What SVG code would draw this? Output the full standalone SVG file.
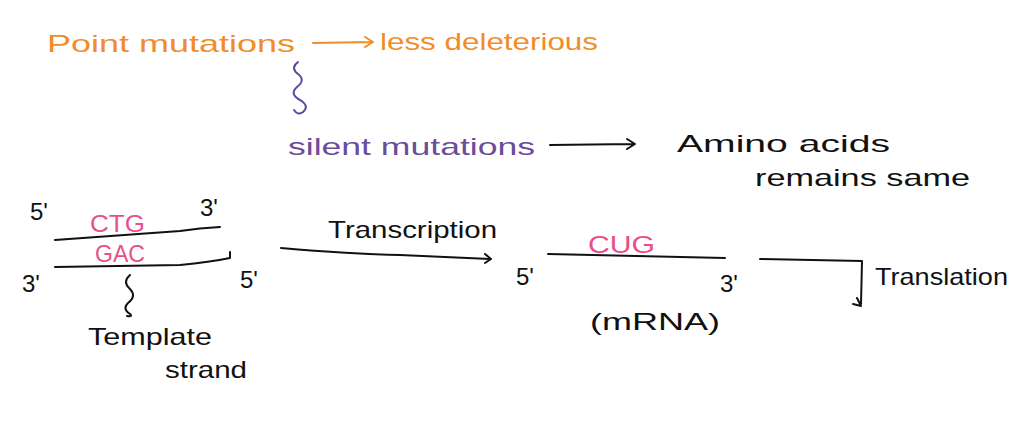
<svg xmlns="http://www.w3.org/2000/svg" width="1024" height="430" viewBox="0 0 1024 430">
<style>
text{font-family:"Liberation Sans","DejaVu Sans",sans-serif;font-size:24px}
.o{fill:#f28c28}
.p{fill:#6b4c9a}
.k{fill:#111}
.r{fill:#e8508a}
.ln{fill:none;stroke:#111;stroke-width:2;stroke-linecap:round;stroke-linejoin:round}
.lo{stroke:#f28c28}
.lp{stroke:#5b45a0}
</style>
<rect width="1024" height="430" fill="#fff"/>
<g id="point-mutations"><text class="o" x="47" y="52" textLength="248" lengthAdjust="spacingAndGlyphs">Point mutations</text></g>
<g id="less-deleterious"><text class="o" x="380" y="50" textLength="218" lengthAdjust="spacingAndGlyphs">less deleterious</text></g>
<g id="silent-mutations"><text class="p" x="288" y="155" textLength="247" lengthAdjust="spacingAndGlyphs">silent mutations</text></g>
<g id="amino-acids"><text class="k" x="677" y="152" textLength="213" lengthAdjust="spacingAndGlyphs">Amino acids</text><text class="k" x="755" y="186" textLength="215" lengthAdjust="spacingAndGlyphs">remains same</text></g>
<g id="dna">
<text class="k" x="30" y="220" font-size="22">5'</text>
<text class="r" x="90" y="232" font-size="20" textLength="55" lengthAdjust="spacingAndGlyphs">CTG</text>
<text class="k" x="200" y="216" font-size="22">3'</text>
<text class="r" x="95" y="262" font-size="18" textLength="50" lengthAdjust="spacingAndGlyphs">GAC</text>
<text class="k" x="22" y="292" font-size="22">3'</text>
<text class="k" x="240" y="288" font-size="22">5'</text>
<path class="ln" d="M55,240 Q140,234 180,231 Q200,228 220,227"/>
<path class="ln" d="M55,267 L180,265 Q210,262 230,258 L230,252"/>
</g>
<g id="template-strand"><text class="k" x="88" y="345" textLength="124" lengthAdjust="spacingAndGlyphs">Template</text><text class="k" x="165" y="378" textLength="82" lengthAdjust="spacingAndGlyphs">strand</text></g>
<g id="transcription-label"><text class="k" x="328" y="238" textLength="169" lengthAdjust="spacingAndGlyphs">Transcription</text></g>
<g id="mrna">
<text class="k" x="516" y="285" font-size="22">5'</text>
<text class="r" x="588" y="253" font-size="22" textLength="67" lengthAdjust="spacingAndGlyphs">CUG</text>
<text class="k" x="720" y="292" font-size="22">3'</text>
<path class="ln" d="M548,254 L725,258"/>
<text class="k" x="590" y="330" textLength="130" lengthAdjust="spacingAndGlyphs">(mRNA)</text>
</g>
<g id="translation-label"><text class="k" x="875" y="285" textLength="133" lengthAdjust="spacingAndGlyphs">Translation</text></g>
<g id="connectors">
<path class="ln lo" d="M313,43 L372,42 M365,37 L373,42 L365,47"/>
<path class="ln lp" d="M298,62 Q290,68 298,74 Q306,80 297,87 Q289,94 300,100 Q310,106 303,112 Q298,116 294,110"/>
<path class="ln" d="M550,145 L634,144 M627,139 L635,144 L627,149"/>
<path class="ln" d="M130,275 Q122,282 130,289 Q137,296 128,303 Q122,309 130,314 Q133,317 127,316"/>
<path class="ln" d="M281,248 Q350,254 400,255 L490,259 M485,254 L491,259 L485,263"/>
<path class="ln" d="M760,259 L862,261 L861,304 M853,304 L861,306 L857,298"/>
</g>
</svg>
